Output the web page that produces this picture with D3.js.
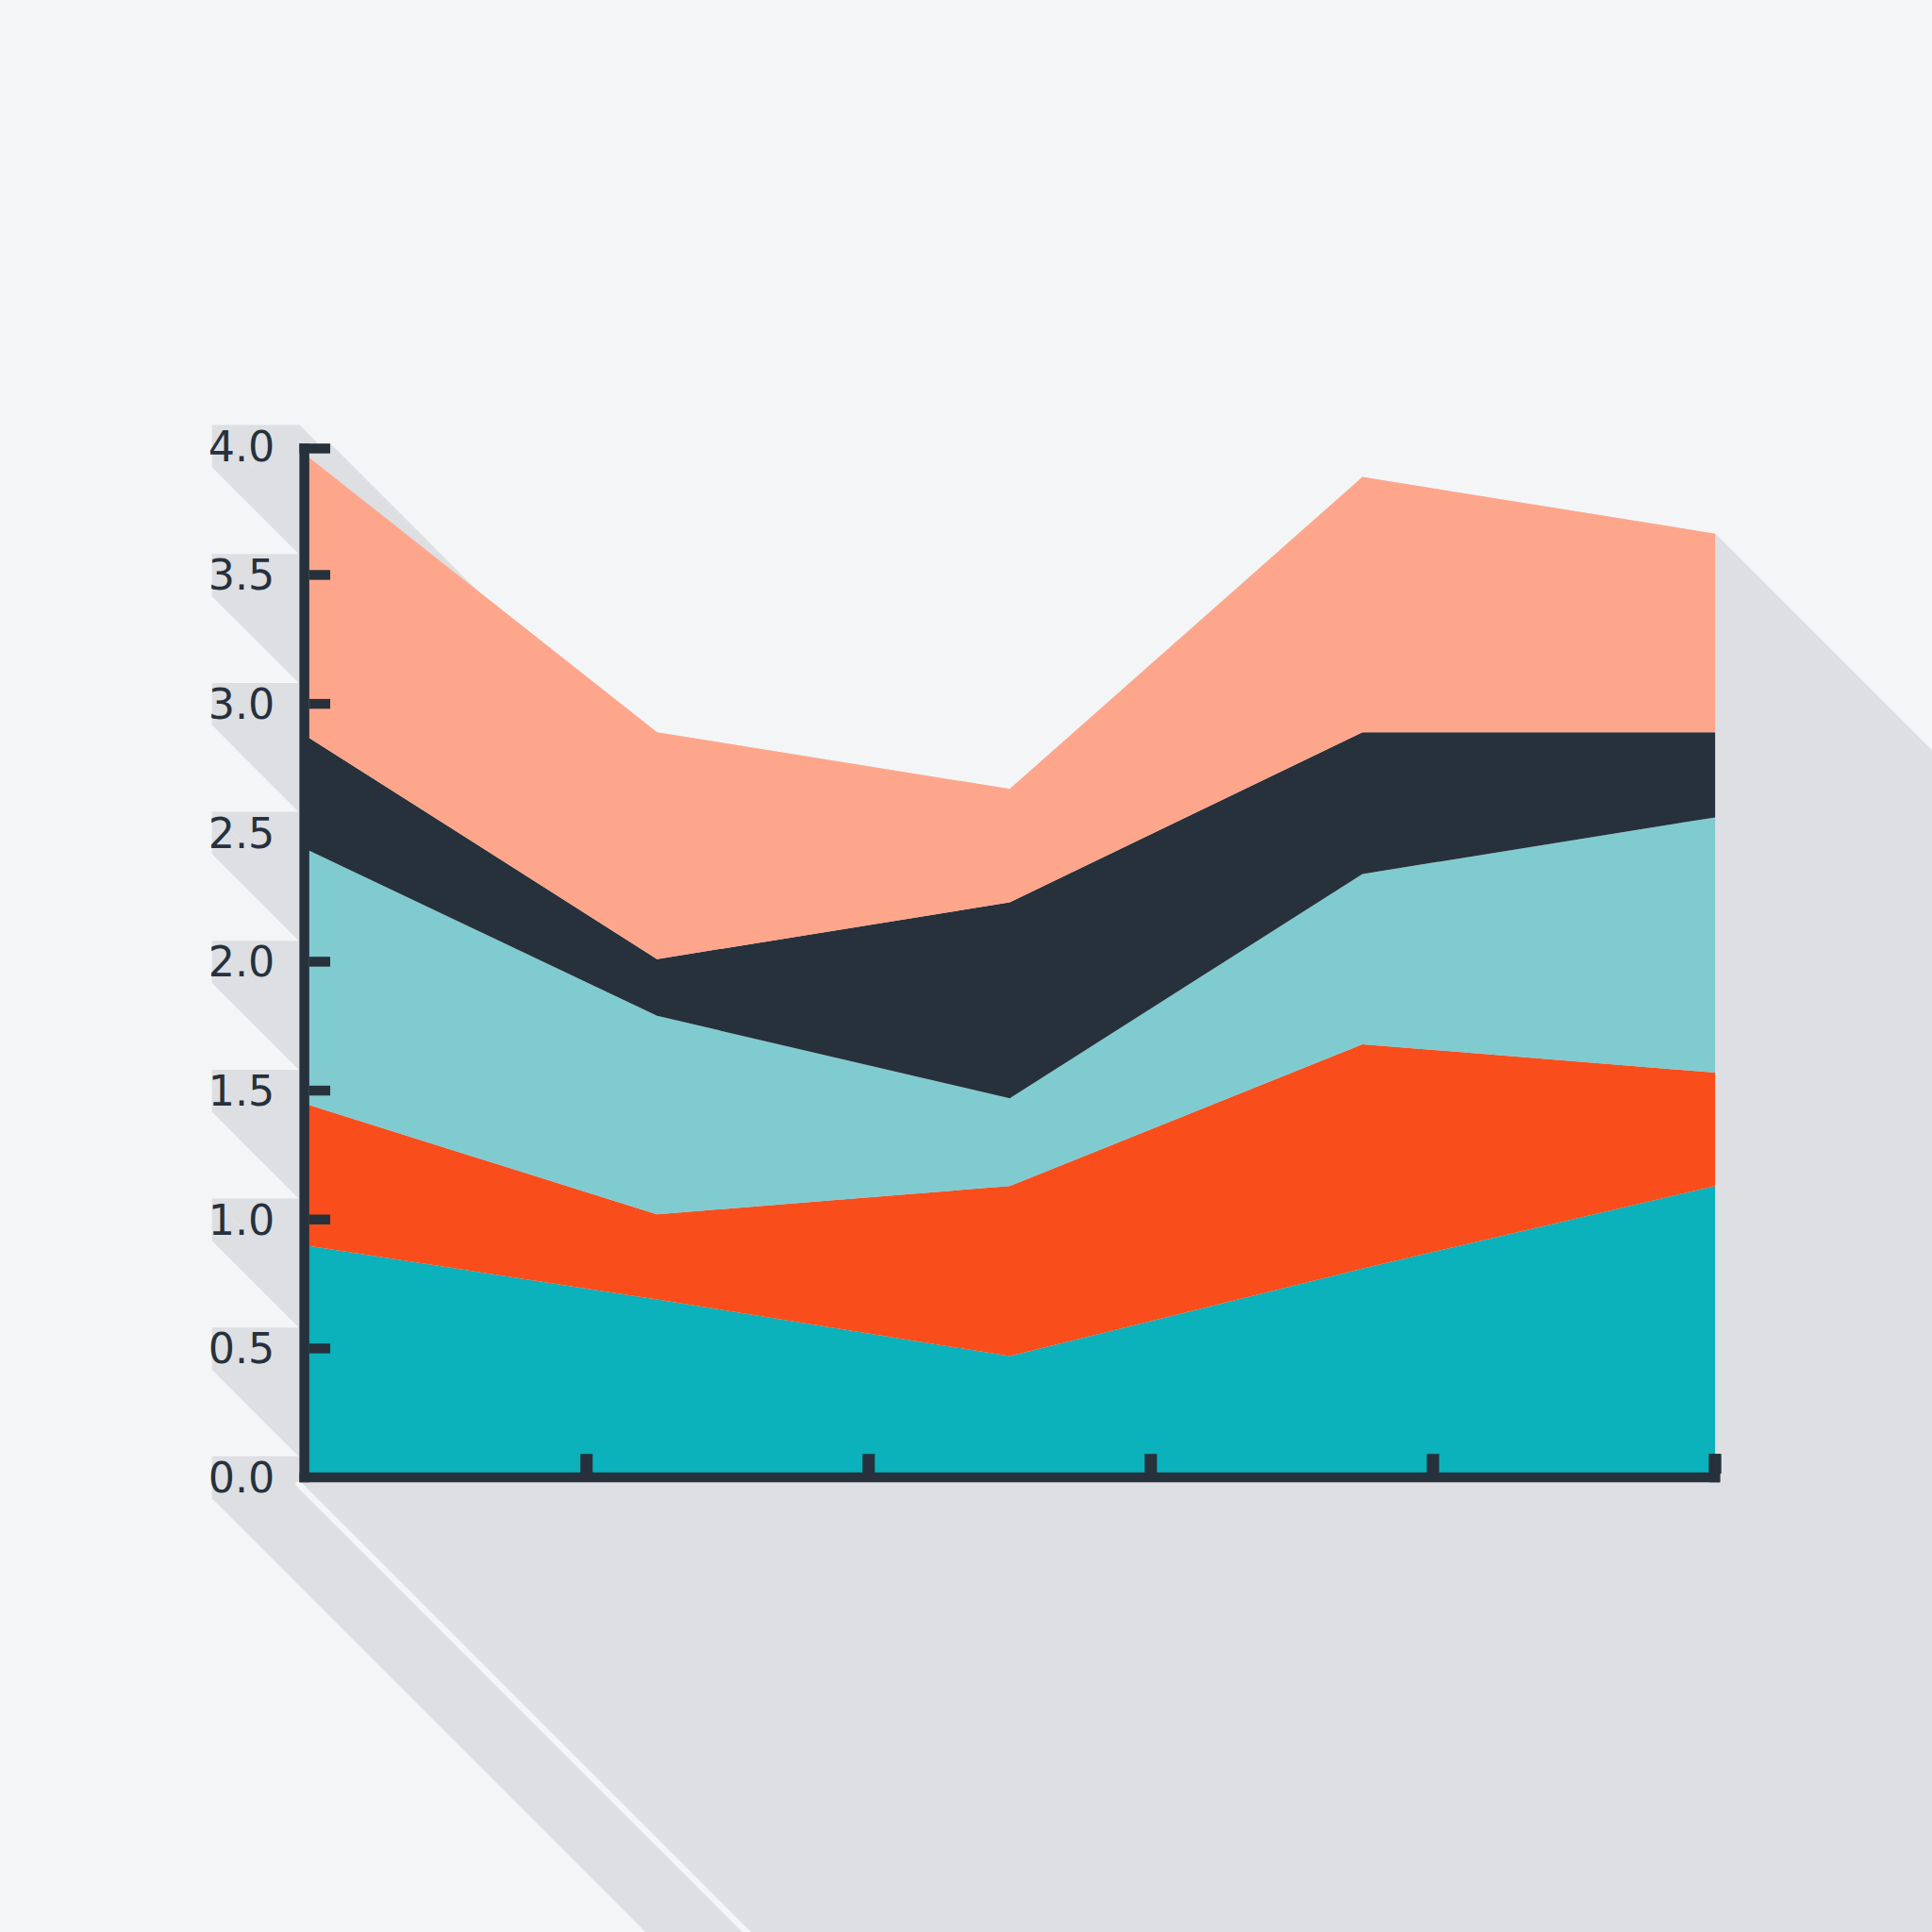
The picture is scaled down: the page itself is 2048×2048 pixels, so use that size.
<!DOCTYPE html><html><head><meta charset="utf-8">
<script src="https://cdn.jsdelivr.net/npm/d3@7/dist/d3.min.js"></script>
<style>body{margin:0;background:#f4f5f7}</style></head><body>
<script>
const points=[0,1,2,3,4];
const keys=["teal","red","lightTeal","dark","salmon"];
const teal=[0.9,0.69,0.47,0.81,1.13];
const red=[0.55,0.33,0.66,0.87,0.44];
const lightTeal=[0.99,0.77,0.34,0.66,0.99];
const dark=[0.44,0.22,0.76,0.55,0.33];
const salmon=[1.09,0.88,0.44,0.99,0.77];
const yTicks=[0,0.5,1,1.5,2,2.5,3,3.5,4];
const xTicks=[1,2,3,4,5];
const colors={teal:"#0bb1bb",red:"#fa4d1c",lightTeal:"#80cbd0",dark:"#27313c",salmon:"#fea68b"};
const series={teal,red,lightTeal,dark,salmon};
const rows=points.map(i=>{const o={i};keys.forEach(k=>o[k]=series[k][i]);return o;});
const stack=d3.stack().keys(keys)(rows);

const svg=d3.select("body").append("svg").attr("width",2048).attr("height",2048).attr("viewBox","0 0 1568 1568");
svg.append("rect").attr("width",1568).attr("height",1568).attr("fill","#f4f5f7");
const x=d3.scaleLinear().domain([0,4]).range([247,1392]);
const xa=d3.scaleLinear().domain([0,5]).range([247,1392]);
const y=d3.scaleLinear().domain([0,4]).range([1199,362]);
const D=2000, sh="#dddfe3";
function sweep(pts){
  for(let j=0;j<pts.length-1;j++){const a=pts[j],b=pts[j+1];
    svg.append("path").attr("fill",sh).attr("d",`M${a[0]},${a[1]}L${b[0]},${b[1]}L${b[0]+D},${b[1]+D}L${a[0]+D},${a[1]+D}Z`);}
}
yTicks.forEach(t=>{const yy=y(t);sweep([[172,yy-17],[243,yy-17],[243,yy+17],[172,yy+17],[172,yy-17]]);});
sweep([[243,360],[268,360],[268,368],[251,368],[251,1195],[1396,1195],[1396,1203],[243,1203],[243,360]]);
const topLayer=stack[stack.length-1];
const outline=topLayer.map((d,i)=>[x(i),y(d[1])]).concat([[x(4),y(0)]]);
sweep(outline);
svg.append("line").attr("x1",241).attr("y1",1203).attr("x2",241+D).attr("y2",1203+D).attr("stroke","#f4f5f7").attr("stroke-width",5);
const area=d3.area().x((d,i)=>x(i)).y0(d=>y(d[0])).y1(d=>y(d[1]));
svg.selectAll(".a").data(stack).join("path").attr("d",area).attr("fill",d=>colors[d.key]);
const ax="#27313c";
svg.append("rect").attr("x",243).attr("y",360).attr("width",8).attr("height",843).attr("fill",ax);
svg.append("rect").attr("x",243).attr("y",360).attr("width",25).attr("height",8).attr("fill",ax);
yTicks.slice(1,8).forEach(t=>svg.append("rect").attr("x",251).attr("y",y(t)-4).attr("width",17).attr("height",8).attr("fill",ax));
svg.append("rect").attr("x",243).attr("y",1195).attr("width",1153).attr("height",8).attr("fill",ax);
xTicks.forEach(t=>svg.append("rect").attr("x",xa(t)-5).attr("y",1180).attr("width",10).attr("height",16).attr("fill",ax));
svg.append("rect").attr("x",1387).attr("y",1180).attr("width",9).attr("height",23).attr("fill",ax);
svg.selectAll(".t").data(yTicks).join("text").attr("x",223).attr("y",d=>y(d)).attr("dy","0.36em")
 .attr("text-anchor","end").attr("font-family","DejaVu Sans").attr("font-size",34).attr("fill",ax).text(d=>d.toFixed(1));
</script></body></html>
